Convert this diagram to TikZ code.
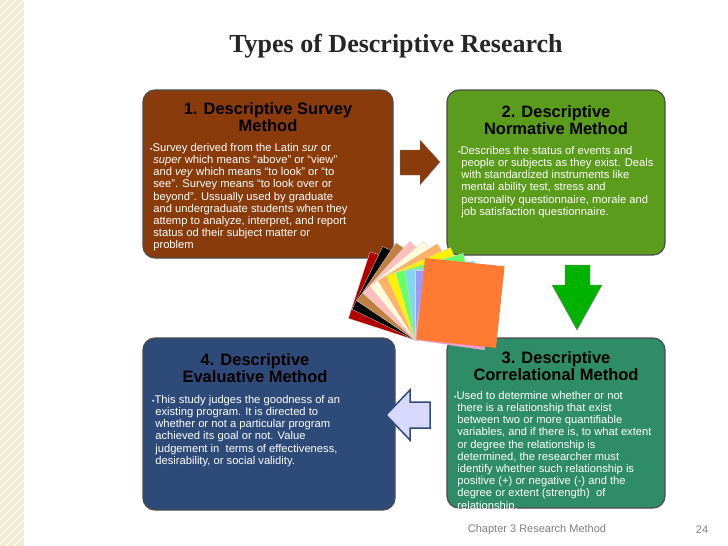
\documentclass[tikz,border=0pt]{standalone}
\usepackage{fontspec}
\setmainfont{Liberation Sans}
\newfontfamily\titlefont{Liberation Serif}
\definecolor{bbrown}{HTML}{8A3B0C}
\definecolor{bgreen}{HTML}{5C9C1C}
\definecolor{bteal}{HTML}{2F8C68}
\definecolor{bblue}{HTML}{2E4A78}
\definecolor{stripe}{HTML}{F3EBD2}
\begin{document}
\begin{tikzpicture}[x=1pt,y=-1pt,
  card/.style={draw=black!70,line width=1.2pt,rounded corners=12pt},
  head/.style={font=\bfseries\fontsize{16.5}{17}\selectfont,align=center,text=black},
  body/.style={font=\fontsize{11.2}{12.2}\selectfont,text=white,align=left,anchor=north west,inner sep=0pt}]
\useasboundingbox (0,0) rectangle (728,546);
\fill[white] (0,0) rectangle (728,546);
\fill[stripe] (0,0) rectangle (24,546);
\foreach \i in {0,8,...,560} \draw[white,line width=1pt] (0,\i) -- (24,\i-24);
% cards
\draw[card,fill=bbrown] (143,90) rectangle (393,258);
\draw[card,fill=bgreen] (447,90) rectangle (665,255);
\draw[card,fill=bteal] (447,338) rectangle (665,508);
\draw[card,fill=bblue] (143,338) rectangle (395,510);
% fan of paper
\foreach \a/\c in {72/red!70!black,64/black,56/brown,48/pink,40/white!85!yellow,32/orange!60,24/yellow,16/green!60,8/cyan!50,0/blue!40,-8/magenta!40}
  \fill[\c,draw=white!70!gray,line width=0.3pt,rotate around={\a:(415,340)}] (415,340) rectangle ++(70,-70);
\fill[orange!70!red!80,rotate around={-6:(425,258)}] (425,258) rectangle ++(80,82);
% arrows
\draw[fill=bbrown,draw=gray] (400,150) -- (420,150) -- (420,140) -- (440,162) -- (420,185) -- (420,175) -- (400,175) -- cycle;
\draw[fill=green!70!black,draw=gray] (565,265) -- (590,265) -- (590,285) -- (602,285) -- (577,330) -- (552,285) -- (565,285) -- cycle;
\draw[fill=white!85!blue,draw=bblue,line width=1.5pt] (430,402) -- (410,402) -- (410,390) -- (386,415) -- (410,440) -- (410,428) -- (430,428) -- cycle;
% texts
\node[head] (h1) at (268,117) {1. Descriptive Survey\\Method};
\node[body] (b1) at (150,143) {{\scriptsize\textbullet}Survey derived from the Latin \textit{sur} or\\
\ \textit{super} which means “above” or “view”\\
\ and \textit{vey} which means “to look” or “to\\
\ see”. Survey means “to look over or\\
\ beyond”. Ussually used by graduate\\
\ and undergraduate students when they\\
\ attemp to analyze, interpret, and report\\
\ status od their subject matter or\\
\ problem};
\node[head] (h2) at (556,120) {2. Descriptive\\Normative Method};
\node[body] (b2) at (458,146) {{\scriptsize\textbullet}Describes the status of events and\\
\ people or subjects as they exist. Deals\\
\ with standardized instruments like\\
\ mental ability test, stress and\\
\ personality questionnaire, morale and\\
\ job satisfaction questionnaire.};
\node[head] (h3) at (556,366) {3. Descriptive\\Correlational Method};
\node[body] (b3) at (454,391) {{\scriptsize\textbullet}Used to determine whether or not\\
\ there is a relationship that exist\\
\ between two or more quantifiable\\
\ variables, and if there is, to what extent\\
\ or degree the relationship is\\
\ determined, the researcher must\\
\ identify whether such relationship is\\
\ positive (+) or negative (-) and the\\
\ degree or extent (strength)\ \ of\\
\ relationship.};
\node[head] (h4) at (255,368) {4. Descriptive\\Evaluative Method};
\node[body] (b4) at (152,395) {{\scriptsize\textbullet}This study judges the goodness of an\\
\ existing program. It is directed to\\
\ whether or not a particular program\\
\ achieved its goal or not. Value\\
\ judgement in\ \ terms of effectiveness,\\
\ desirability, or social validity.};
\node[font=\titlefont\bfseries\fontsize{26}{26}\selectfont,text=black!85] (t) at (396,46) {Types of Descriptive Research};
\node[font=\fontsize{11}{11}\selectfont,text=gray] (f1) at (537,530) {Chapter 3 Research Method};
\node[font=\fontsize{11}{11}\selectfont,text=gray] (f2) at (702,530) {24};
\end{tikzpicture}
\end{document}
